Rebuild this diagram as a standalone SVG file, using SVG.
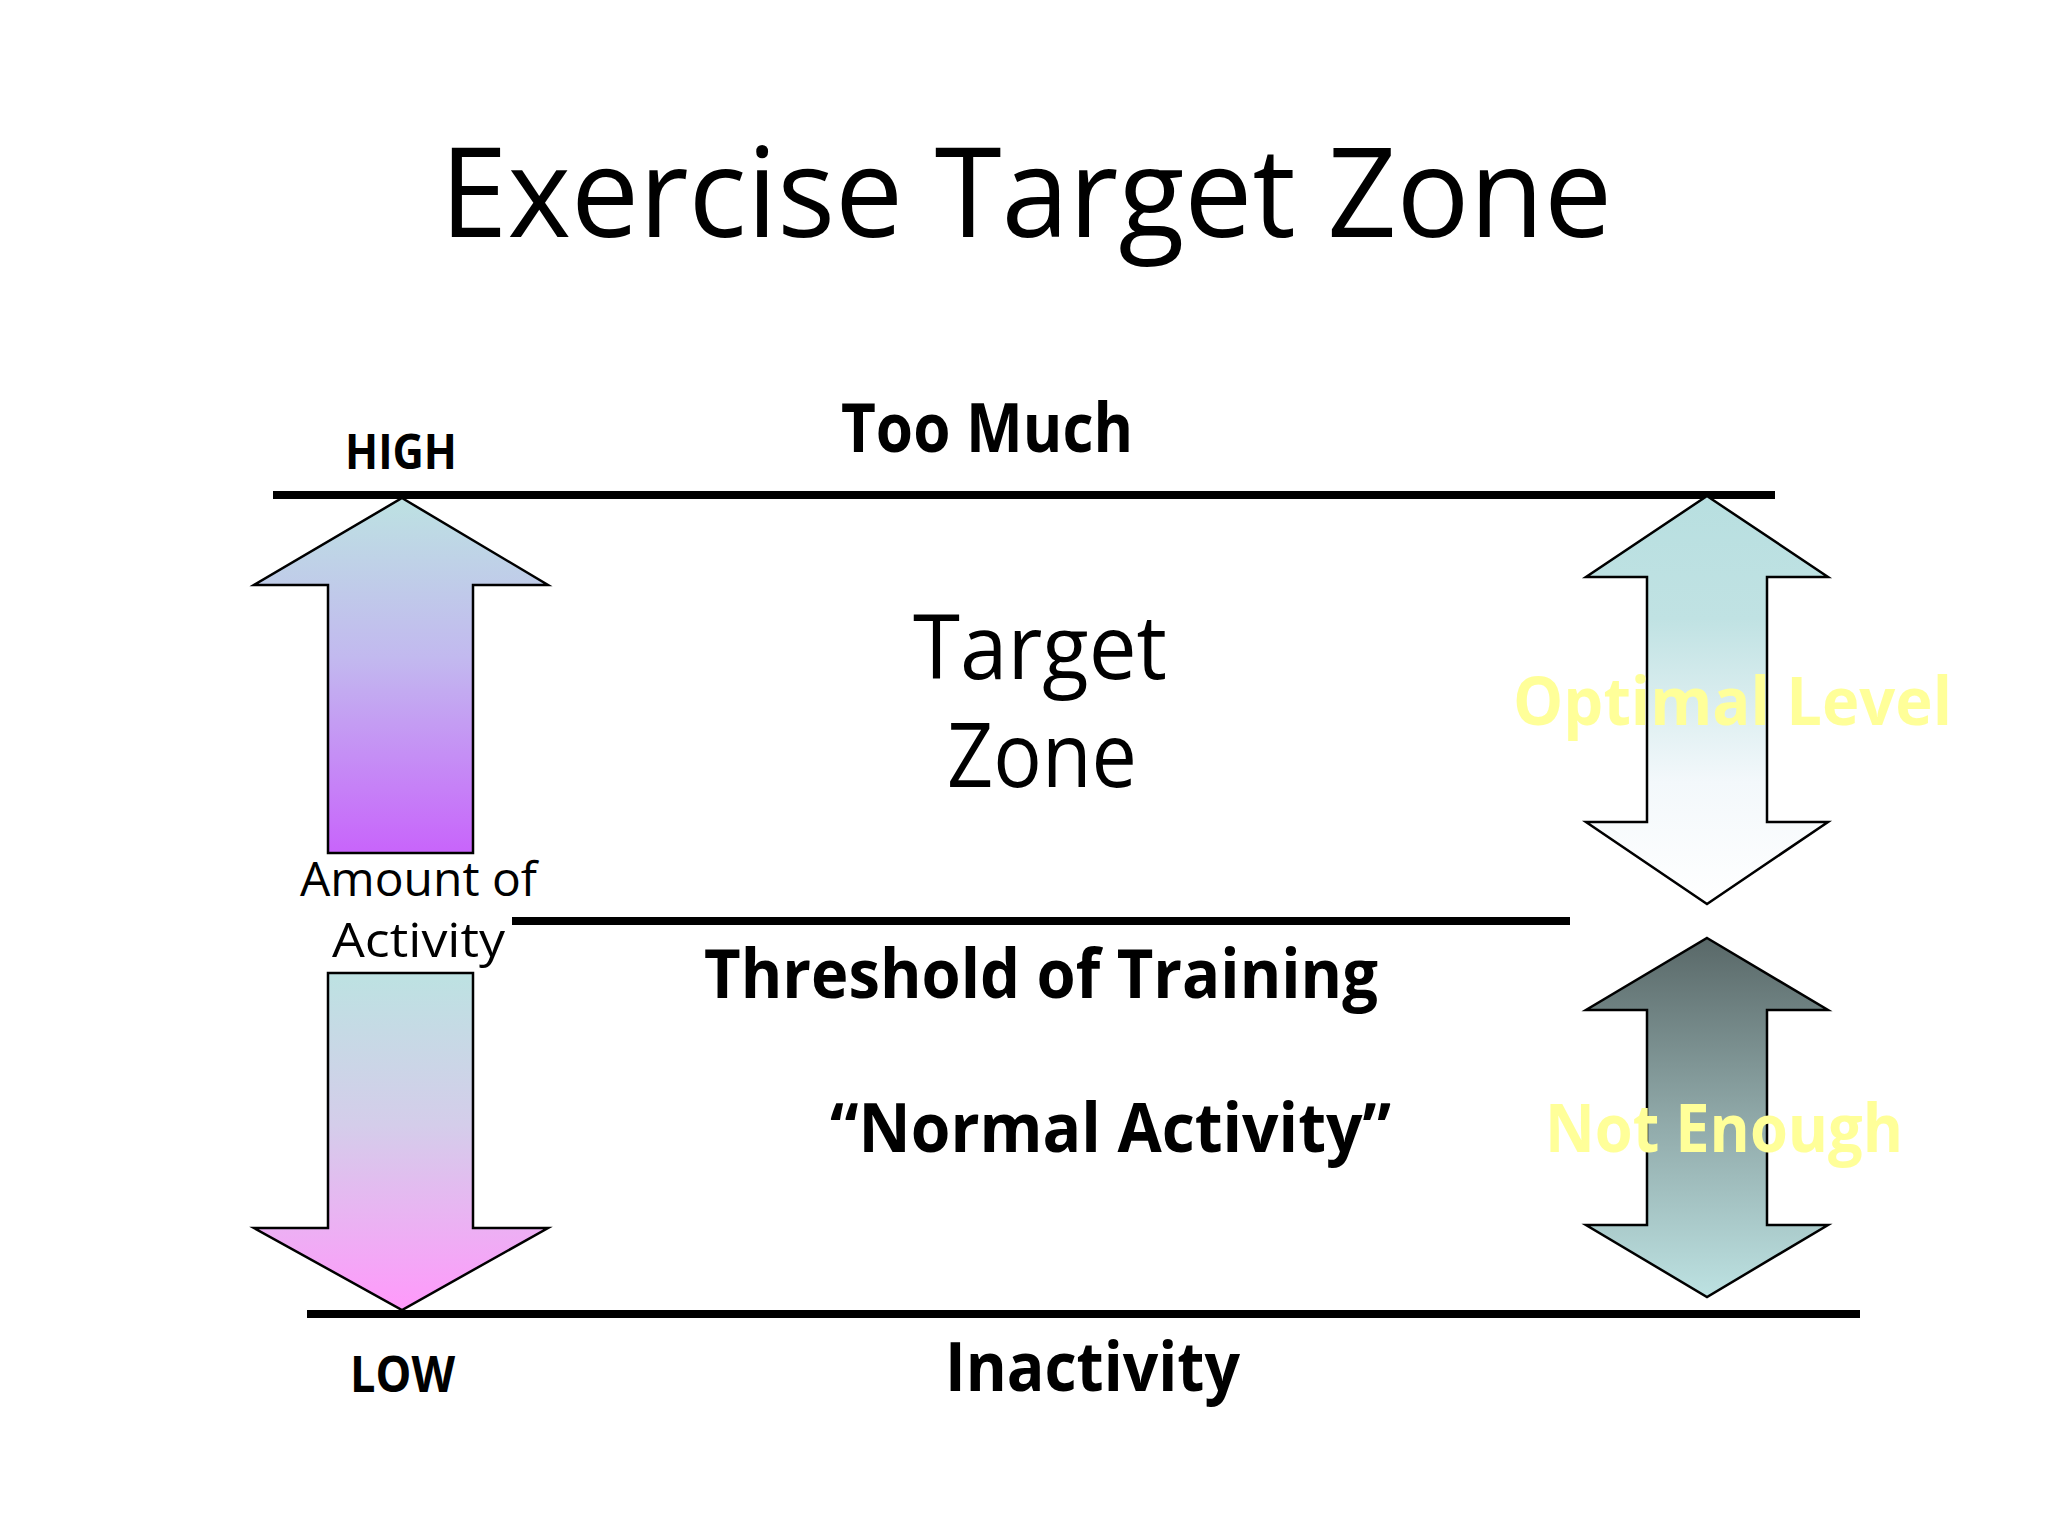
<svg xmlns="http://www.w3.org/2000/svg" width="2048" height="1536" viewBox="0 0 2048 1536">
  <defs>
    <linearGradient id="gUp" x1="0" y1="0" x2="0" y2="1">
      <stop offset="0" stop-color="#bde2e2"/>
      <stop offset="0.45" stop-color="#c2b9ef"/>
      <stop offset="1" stop-color="#c864fb"/>
    </linearGradient>
    <linearGradient id="gDown" x1="0" y1="0" x2="0" y2="1">
      <stop offset="0" stop-color="#bde2e2"/>
      <stop offset="0.45" stop-color="#d4cdea"/>
      <stop offset="1" stop-color="#ff99fb"/>
    </linearGradient>
    <linearGradient id="gOpt" x1="0" y1="0" x2="0" y2="1">
      <stop offset="0" stop-color="#b8dfe0"/>
      <stop offset="0.3" stop-color="#c0e2e3"/>
      <stop offset="0.7" stop-color="#f3f8fb"/>
      <stop offset="1" stop-color="#ffffff"/>
    </linearGradient>
    <linearGradient id="gNot" x1="0" y1="0" x2="0" y2="1">
      <stop offset="0" stop-color="#596868"/>
      <stop offset="0.5" stop-color="#8fa8a8"/>
      <stop offset="1" stop-color="#bde2e2"/>
    </linearGradient>
  </defs>
  <style>
    .t { font-family: "Open Sans", "DejaVu Sans", sans-serif; fill: #000; }
    .b { font-weight: bold; }
    .y { font-family: "Open Sans", "DejaVu Sans", sans-serif; font-weight: bold; fill: #ffff99; }
    .arrow { stroke: #000; stroke-width: 2.5; stroke-linejoin: miter; }
    .rule { stroke: #000; stroke-width: 8; }
  </style>
  <rect width="2048" height="1536" fill="#ffffff"/>

  <g id="connectors">
    <line class="rule" x1="273" y1="495" x2="1775" y2="495"/>
    <line class="rule" x1="512" y1="921" x2="1570" y2="921"/>
    <line class="rule" x1="307" y1="1314" x2="1860" y2="1314"/>
  </g>

  <g id="title">
    <text class="t" x="440" y="237" font-size="125" textLength="1172" lengthAdjust="spacingAndGlyphs">Exercise Target Zone</text>
  </g>

  <g id="high">
    <text class="t b" x="345" y="469" font-size="48" textLength="112" lengthAdjust="spacingAndGlyphs">HIGH</text>
  </g>
  <g id="low">
    <text class="t b" x="350" y="1392" font-size="50" textLength="105" lengthAdjust="spacingAndGlyphs">LOW</text>
  </g>

  <g id="up-arrow">
    <polygon class="arrow" fill="url(#gUp)" points="402,498 548,585 473,585 473,853 328,853 328,585 254,585"/>
  </g>
  <g id="down-arrow">
    <polygon class="arrow" fill="url(#gDown)" points="328,973 473,973 473,1228 548,1228 402,1310 254,1228 328,1228"/>
  </g>

  <g id="amount-label">
    <text class="t" x="300" y="896" font-size="48" textLength="237" lengthAdjust="spacingAndGlyphs">Amount of</text>
    <text class="t" x="332" y="957" font-size="48" textLength="173" lengthAdjust="spacingAndGlyphs">Activity</text>
  </g>

  <g id="too-much">
    <text class="t b" x="841" y="452" font-size="68" textLength="292" lengthAdjust="spacingAndGlyphs">Too Much</text>
  </g>

  <g id="target-zone">
    <text class="t" x="913" y="679" font-size="90" textLength="254" lengthAdjust="spacingAndGlyphs">Target</text>
    <text class="t" x="947" y="787" font-size="90" textLength="190" lengthAdjust="spacingAndGlyphs">Zone</text>
  </g>

  <g id="threshold">
    <text class="t b" x="704" y="998" font-size="68" textLength="674" lengthAdjust="spacingAndGlyphs">Threshold of Training</text>
  </g>

  <g id="normal-activity">
    <text class="t b" x="830" y="1152" font-size="68" textLength="561" lengthAdjust="spacingAndGlyphs">“Normal Activity”</text>
  </g>

  <g id="inactivity">
    <text class="t b" x="945" y="1391" font-size="68" textLength="295" lengthAdjust="spacingAndGlyphs">Inactivity</text>
  </g>

  <g id="optimal-arrow">
    <polygon class="arrow" fill="url(#gOpt)" points="1707,496 1828,577 1767,577 1767,822 1828,822 1707,904 1586,822 1647,822 1647,577 1586,577"/>
    <text class="y" x="1513" y="725" font-size="66" textLength="439" lengthAdjust="spacingAndGlyphs">Optimal Level</text>
  </g>

  <g id="not-enough-arrow">
    <polygon class="arrow" fill="url(#gNot)" points="1707,938 1828,1010 1767,1010 1767,1225 1828,1225 1707,1297 1586,1225 1647,1225 1647,1010 1586,1010"/>
    <text class="y" x="1545" y="1152" font-size="66" textLength="358" lengthAdjust="spacingAndGlyphs">Not Enough</text>
  </g>
</svg>
